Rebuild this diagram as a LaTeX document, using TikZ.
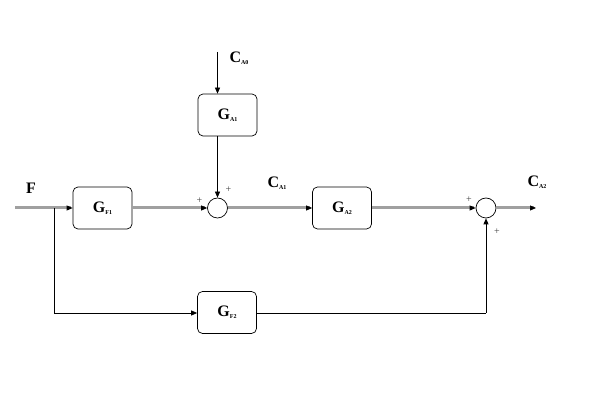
\documentclass[tikz,border=0pt]{standalone}
\usepackage{fontspec}
\setmainfont{Liberation Serif}
\usetikzlibrary{arrows.meta}
\definecolor{maingray}{RGB}{160,160,160}
\newcommand{\mylab}[2]{\fontsize{16}{16}\selectfont\bfseries #1\raisebox{-0.3ex}{\fontsize{6}{6}\selectfont\bfseries #2}}
\begin{document}
\begin{tikzpicture}[x=1pt,y=-1pt,
  blk/.style={draw,rounded corners=5pt,minimum width=59pt,minimum height=42pt,inner sep=0pt,line width=0.7pt},
  sumc/.style={draw,circle,minimum size=20pt,inner sep=0pt,line width=0.7pt},
  lbl/.style={font=\fontsize{16}{16}\selectfont\bfseries},
  pls/.style={font=\fontsize{10}{10}\selectfont,text=black!75},
  mainline/.style={draw=maingray,line width=3pt},
  thinline/.style={draw=black,line width=0.7pt},
  tip/.style={-{Triangle[length=6pt,width=5pt]}}]
\useasboundingbox (0,0) rectangle (598,411);
\node[blk] (gf1) at (102.5,208) {\mylab{G}{F1}};
\node[blk] (ga1) at (227.5,115) {\mylab{G}{A1}};
\node[blk] (ga2) at (342,208) {\mylab{G}{A2}};
\node[blk] (gf2) at (227,312.5) {\mylab{G}{F2}};
\node[sumc] (s1) at (217.5,208) {};
\node[sumc] (s2) at (486,208) {};
\coordinate (in) at (15,208);
\coordinate (br) at (54,208);
\coordinate (brd) at (54,313);
\coordinate (top) at (217.5,52);
\coordinate (out) at (536,208);
\coordinate (corner) at (486,313);
% thick main line
\draw[mainline] (in) -- ([xshift=-2pt]gf1.west);
\draw[mainline] (gf1.east) -- ([xshift=-2pt]s1.west);
\draw[mainline] (s1.east) -- ([xshift=-2pt]ga2.west);
\draw[mainline] (ga2.east) -- ([xshift=-2pt]s2.west);
\draw[mainline] (s2.east) -- ([xshift=-2pt]out);
% arrowheads on main line
\draw[thinline,tip] ([xshift=-4pt]gf1.west) -- (gf1.west);
\draw[thinline,tip] ([xshift=-4pt]s1.west) -- (s1.west);
\draw[thinline,tip] ([xshift=-4pt]ga2.west) -- (ga2.west);
\draw[thinline,tip] ([xshift=-4pt]s2.west) -- (s2.west);
\draw[thinline,tip] ([xshift=-4pt]out) -- (out);
% thin lines
\draw[thinline,tip] (top) -- (top |- ga1.north);
\draw[thinline,tip] (ga1.south -| s1) -- (s1.north);
\draw[thinline] (br) -- (brd);
\draw[thinline,tip] (brd) -- (brd -| gf2.west);
\draw[thinline] (gf2.east |- corner) -- (corner);
\draw[thinline,tip] (corner) -- (s2.south);
% labels
\node[lbl] (F) at (31,188) {F};
\node (ca0) at (239,58) {\mylab{C}{A0}};
\node (ca1) at (277,183) {\mylab{C}{A1}};
\node (ca2) at (537,182) {\mylab{C}{A2}};
\node[pls] (p1) at (199.5,201) {+};
\node[pls] (p2) at (228.5,189.5) {+};
\node[pls] (p3) at (469,199.5) {+};
\node[pls] (p4) at (497,231.5) {+};
\end{tikzpicture}
\end{document}
